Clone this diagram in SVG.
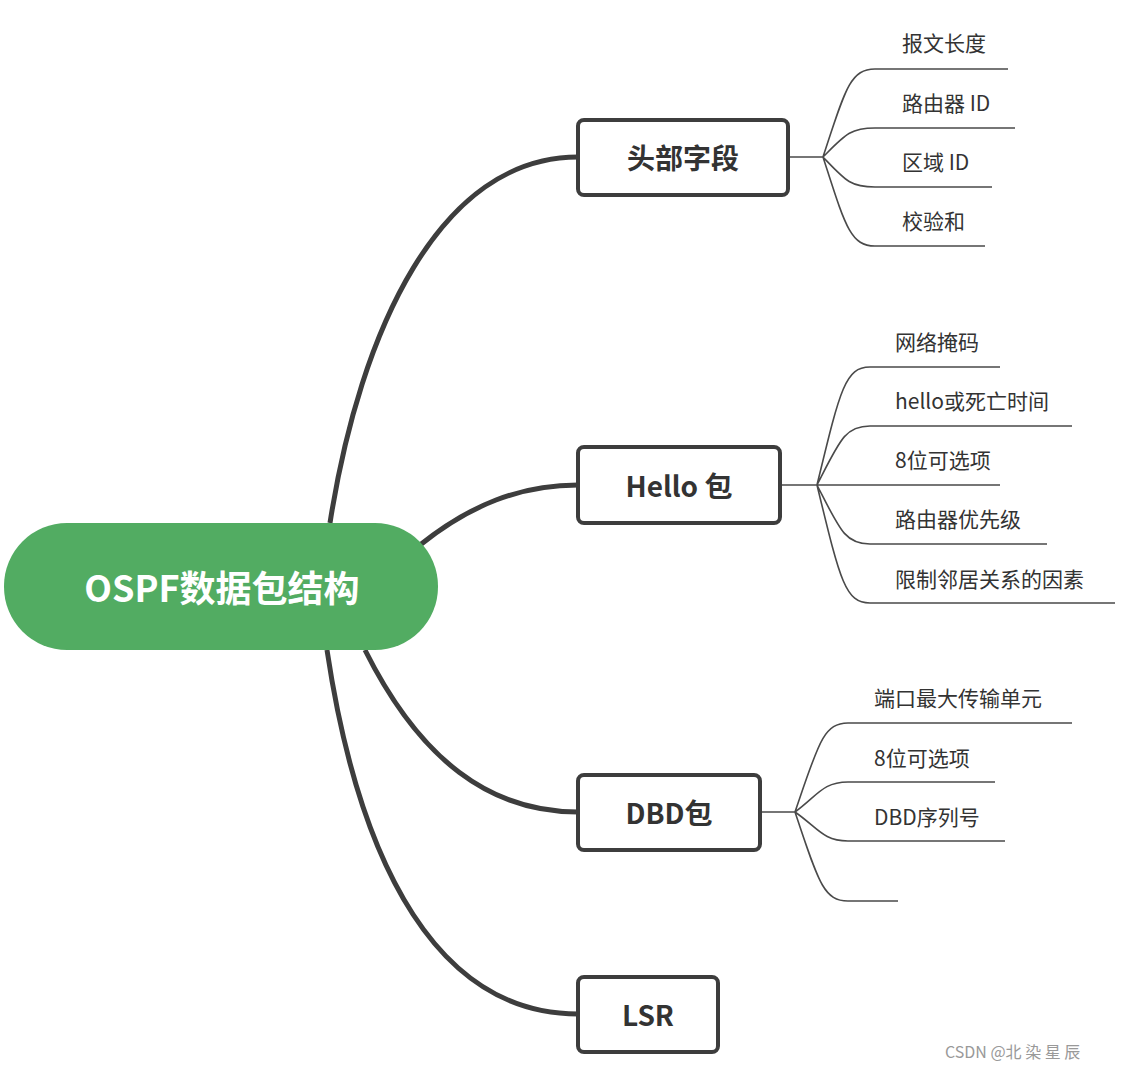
<svg xmlns="http://www.w3.org/2000/svg" width="1129" height="1071" viewBox="0 0 1129 1071">
<style>
.b{fill:none;stroke:#3d3d3d;stroke-width:5}
.s{fill:none;stroke:#4a4a4a;stroke-width:1.6}
.box{fill:#fff;stroke:#3d3d3d;stroke-width:4}
.bt{font-family:"Noto Sans CJK SC","Noto Sans",sans-serif;font-weight:bold;font-size:28px;fill:#333;text-anchor:middle;dominant-baseline:central}
.t{font-family:"Noto Sans CJK SC","Noto Sans",sans-serif;font-size:21px;fill:#333;dominant-baseline:central}
</style>
<rect width="1129" height="1071" fill="#fff"/>
<g id="connectors">
<path class="b" d="M330,523 C360,330 440,157 578,157"/>
<path class="b" d="M420,545 C470,505 520,485 578,485"/>
<path class="b" d="M365,650 C420,760 490,812 578,812"/>
<path class="b" d="M327,650 C360,870 440,1014 578,1014"/>
<path class="s" d="M788,157 H823 M823,157 C845,90 850,69 875,69 H1008 M823,157 C845,135 850,128 875,128 H1015 M823,157 C845,180 850,187 875,187 H992 M823,157 C845,225 850,246 875,246 H985"/>
<path class="s" d="M780,485 H817 M817,485 C840,390 845,367 870,367 H1000 M817,485 C840,440 845,426 870,426 H1072 M817,485 H1000 M817,485 C840,530 845,544 870,544 H1047 M817,485 C840,580 845,603 870,603 H1115"/>
<path class="s" d="M760,812 H795 M795,812 C818,745 823,723 848,723 H1072 M795,812 C818,795 823,782 848,782 H995 M795,812 C818,828 823,841 848,841 H1005 M795,812 C818,880 823,901 848,901 H898"/>
</g>
<g id="root"><rect x="4" y="523" width="434" height="127" rx="63" fill="#52ac62"/><text class="bt" x="222" y="586" style="fill:#fff;font-size:36px">OSPF数据包结构</text></g>
<g id="n1"><rect class="box" x="578" y="120" width="210" height="75" rx="6"/><text class="bt" x="683" y="157">头部字段</text></g>
<g id="n2"><rect class="box" x="578" y="447" width="202" height="76" rx="6"/><text class="bt" x="679" y="485">Hello 包</text></g>
<g id="n3"><rect class="box" x="578" y="775" width="182" height="75" rx="6"/><text class="bt" x="669" y="812">DBD包</text></g>
<g id="n4"><rect class="box" x="578" y="977" width="140" height="75" rx="6"/><text class="bt" x="648" y="1014">LSR</text></g>
<g id="leaves">
<text class="t" x="902" y="42">报文长度</text>
<text class="t" x="902" y="102">路由器 ID</text>
<text class="t" x="902" y="161">区域 ID</text>
<text class="t" x="902" y="220">校验和</text>
<text class="t" x="895" y="341">网络掩码</text>
<text class="t" x="895" y="400">hello或死亡时间</text>
<text class="t" x="895" y="459">8位可选项</text>
<text class="t" x="895" y="518">路由器优先级</text>
<text class="t" x="895" y="578">限制邻居关系的因素</text>
<text class="t" x="874" y="697">端口最大传输单元</text>
<text class="t" x="874" y="757">8位可选项</text>
<text class="t" x="874" y="816">DBD序列号</text>
</g>
<text x="945" y="1058" font-family="Noto Sans CJK SC,sans-serif" font-size="16" fill="#999">CSDN @北 染 星 辰</text>
</svg>
